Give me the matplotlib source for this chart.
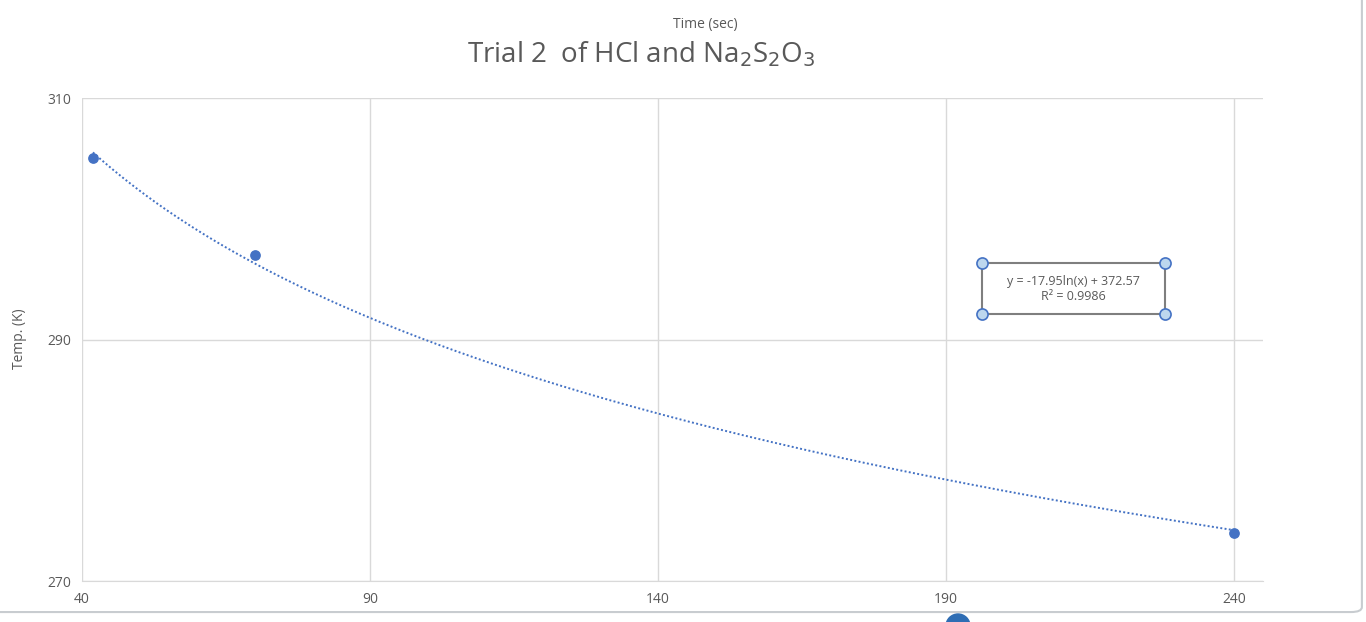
"""Trial 2 of HCl and Na2S2O3: temperature vs time with log trendline."""

import matplotlib.pyplot as plt
import numpy as np
from matplotlib.patches import Circle, FancyBboxPatch

time_sec = [41.9, 70.0, 240.0]
temp_k = [305.0, 297.0, 274.0]
x_ticks = [40, 90, 140, 190, 240]
y_ticks = [270, 290, 310]
trend_label = "y = -17.95ln(x) + 372.57\nR² = 0.9986"

plt.rcParams["font.family"] = ["Open Sans", "DejaVu Sans"]
fig = plt.figure(figsize=(13.66, 6.22), dpi=100)
ax = fig.add_axes([0.060, 0.0659, 0.8646, 0.7765])

# logarithmic trendline fitted to the points
slope, intercept = np.polyfit(np.log(time_sec), temp_k, 1)
xs = np.linspace(min(time_sec), max(time_sec), 300)
ax.plot(xs, slope * np.log(xs) + intercept, linestyle=(0, (1, 1.2)), color="#4472c4", lw=1.4)
ax.scatter(time_sec, temp_k, s=45, color="#4472c4", zorder=3)

ax.set_xlim(40, 245)
ax.set_ylim(270, 310)
ax.set_xticks(x_ticks)
ax.set_yticks(y_ticks)
ax.grid(True, color="#d9d9d9", lw=1)
for side in ["top", "right", "left"]:
    ax.spines[side].set_visible(False)
ax.spines["bottom"].set_color("#d9d9d9")
ax.tick_params(length=0, labelsize=10, colors="#595959", pad=8)

fig.text(0.014, 0.455, "Temp. (K)", rotation=90, ha="center", va="center", fontsize=10, color="#595959")
fig.text(0.5165, 0.96, "Time (sec)", ha="center", va="center", fontsize=10, color="#595959")
fig.text(0.4695, 0.912, "Trial 2  of HCl and Na$_2$S$_2$O$_3$", ha="center", va="center",
         fontsize=20, color="#595959")

# equation label box with selection handles
bx0, by0, bx1, by1 = 0.7189, 0.495, 0.8529, 0.577
box = FancyBboxPatch((bx0, by0), bx1 - bx0, by1 - by0, boxstyle="square,pad=0",
                     transform=fig.transFigure, fill=False, ec="#7f7f7f", lw=1.5)
fig.add_artist(box)
fig.text((bx0 + bx1) / 2, (by0 + by1) / 2, trend_label,
         ha="center", va="center", fontsize=9, color="#595959", linespacing=1.2)
for hx in (bx0, bx1):
    for hy in (by0, by1):
        fig.add_artist(plt.Line2D([hx], [hy], marker="o", ms=8, mfc="#bdd7ee",
                                  mec="#4472c4", mew=1.2, transform=fig.transFigure))

# outer frame and clipped handle at the bottom
fig.add_artist(FancyBboxPatch((-0.01, 0.016), 1.007, 1.05, boxstyle="round,pad=0,rounding_size=0.008",
                              transform=fig.transFigure, fill=False, ec="#c8ccd0", lw=1.5))
fig.add_artist(Circle((958, -4), 12, transform=None, color="#2e6db4"))

fig.savefig("out.png", dpi=100)
